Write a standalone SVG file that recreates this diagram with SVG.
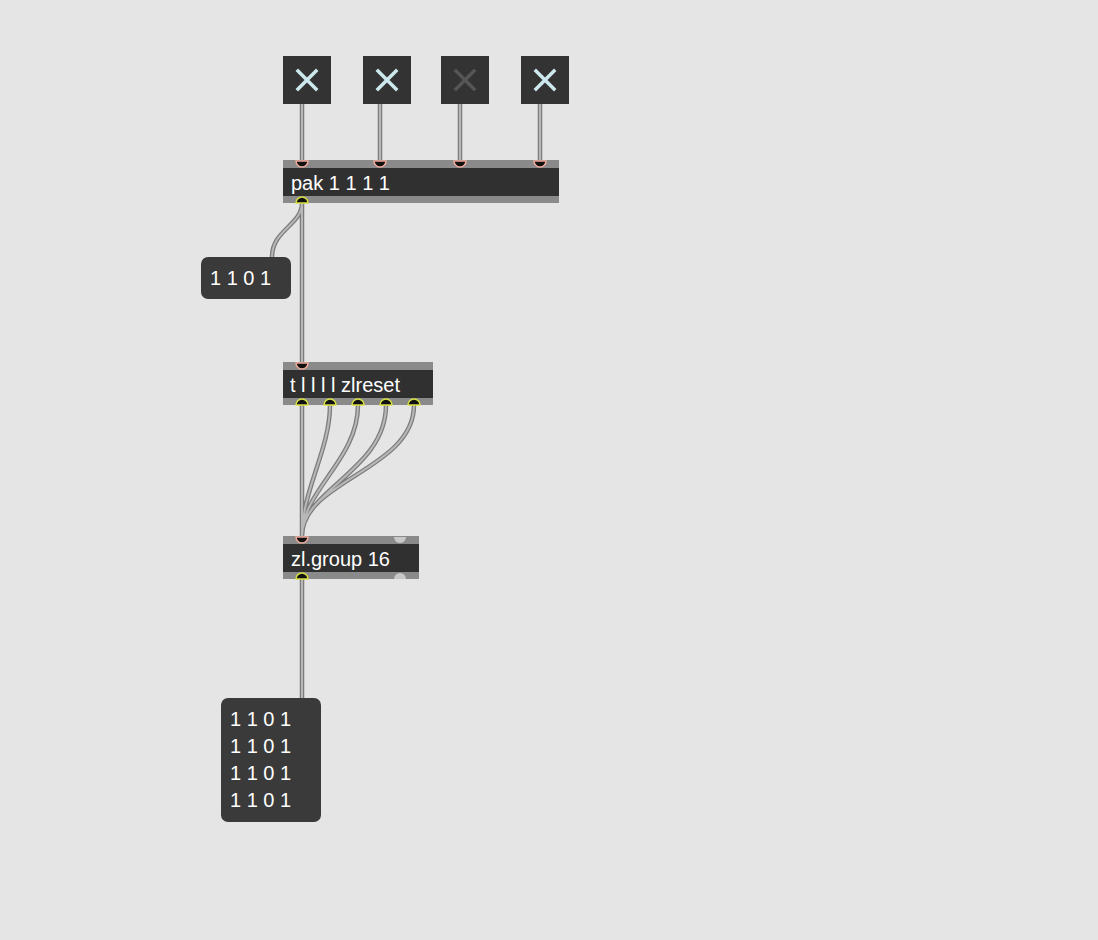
<svg xmlns="http://www.w3.org/2000/svg" width="1098" height="940" viewBox="0 0 1098 940">
<style>
.bg{fill:#e5e5e5}
.tog{fill:#333333}
.xon{stroke:#cde9ee;stroke-width:3.5;stroke-linecap:square}
.xoff{stroke:#555555;stroke-width:3.5;stroke-linecap:square}
.band{fill:#8a8a8a}
.body{fill:#303030}
.t{font-family:"Helvetica Neue","Liberation Sans",Arial,sans-serif;font-size:20px;fill:#ffffff}
.cw{fill:none;stroke:#7c7c7c;stroke-width:4.5}
.ci{fill:none;stroke:#b8b8b8;stroke-width:2}
.in{fill:#111;stroke:#f0a898;stroke-width:1.5}
.out{fill:#111;stroke:#d8e040;stroke-width:1.5}
.gp{fill:#c8c8c8}
.msg{fill:#3a3a3a}
</style>
<rect class="bg" width="1098" height="940"/>
<g id="connectors">
<path class="cw" d="M302 104V160M380 104V160M460 104V160M540 104V160M302 203V362M302 203C302 225 272 230 272 257M302 405V536M330 405C330 450 302 490 302 536M358 405C358 460 302 490 302 536M386 405C386 470 302 490 302 536M414 405C414 470 302 480 302 536M302 579V698"/>
<path class="ci" d="M302 104V160M380 104V160M460 104V160M540 104V160M302 203V362M302 203C302 225 272 230 272 257M302 405V536M330 405C330 450 302 490 302 536M358 405C358 460 302 490 302 536M386 405C386 470 302 490 302 536M414 405C414 470 302 480 302 536M302 579V698"/>
</g>
<g id="toggle1"><rect class="tog" x="283" y="56" width="48" height="48"/><path class="xon" d="M298 71L316 89M316 71L298 89"/></g>
<g id="toggle2"><rect class="tog" x="363" y="56" width="48" height="48"/><path class="xon" d="M378 71L396 89M396 71L378 89"/></g>
<g id="toggle3"><rect class="tog" x="441" y="56" width="48" height="48"/><path class="xoff" d="M456 71L474 89M474 71L456 89"/></g>
<g id="toggle4"><rect class="tog" x="521" y="56" width="48" height="48"/><path class="xon" d="M536 71L554 89M554 71L536 89"/></g>
<g id="pak">
<rect class="band" x="283" y="160" width="276" height="43"/><rect class="body" x="283" y="168" width="276" height="28"/>
<text class="t" x="291" y="190">pak 1 1 1 1</text>
<path class="in" d="M296 161a6 6 0 0 0 12 0z"/><path class="in" d="M374 161a6 6 0 0 0 12 0z"/><path class="in" d="M454 161a6 6 0 0 0 12 0z"/><path class="in" d="M534 161a6 6 0 0 0 12 0z"/>
<path class="out" d="M296 203a6 6 0 0 1 12 0z"/>
</g>
<g id="msg1"><rect class="msg" x="201" y="257" width="90" height="42" rx="7"/><text class="t" x="210" y="285">1 1 0 1</text></g>
<g id="trigger">
<rect class="band" x="283" y="362" width="150" height="43"/><rect class="body" x="283" y="370" width="150" height="28"/>
<text class="t" x="290" y="392">t l l l l zlreset</text>
<path class="in" d="M296 363a6 6 0 0 0 12 0z"/>
<path class="out" d="M296 405a6 6 0 0 1 12 0zM324 405a6 6 0 0 1 12 0zM352 405a6 6 0 0 1 12 0zM380 405a6 6 0 0 1 12 0zM408 405a6 6 0 0 1 12 0z"/>
</g>
<g id="zlgroup">
<rect class="band" x="283" y="536" width="136" height="43"/><rect class="body" x="283" y="544" width="136" height="28"/>
<text class="t" x="291" y="566">zl.group 16</text>
<path class="in" d="M296 537a6 6 0 0 0 12 0z"/><path class="gp" d="M394 537a6 6 0 0 0 12 0z"/>
<path class="out" d="M296 579a6 6 0 0 1 12 0z"/><path class="gp" d="M394 579a6 6 0 0 1 12 0z"/>
</g>
<g id="msg2"><rect class="msg" x="221" y="698" width="100" height="124" rx="7"/>
<text class="t" x="230" y="726">1 1 0 1</text><text class="t" x="230" y="753">1 1 0 1</text><text class="t" x="230" y="780">1 1 0 1</text><text class="t" x="230" y="807">1 1 0 1</text></g>
</svg>
